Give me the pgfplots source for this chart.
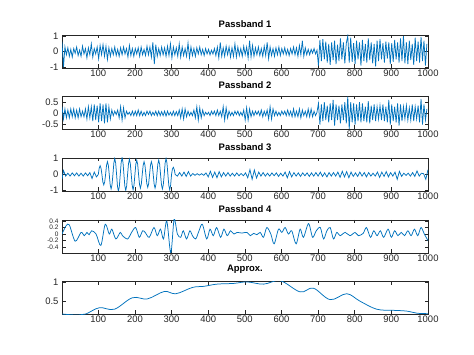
\documentclass[border=0pt]{standalone}
\usepackage{pgfplots}
\usepackage{pgfplotstable}
\pgfplotsset{compat=1.18}
\usepackage{fontspec}
\setmainfont{Liberation Sans}
\definecolor{mblue}{RGB}{0,114,189}
\definecolor{axgray}{RGB}{38,38,38}

\pgfplotstableread[row sep=\\]{y\\
0.65\\-1.0\\0.3\\-0.2\\0.25\\-0.3\\0.15\\-0.35\\0.2\\-0.1\\
0.3\\-0.25\\0.1\\-0.3\\0.35\\-0.15\\0.2\\-0.4\\0.25\\-0.2\\
0.5\\-0.35\\0.2\\-0.15\\0.3\\-0.45\\0.4\\-0.2\\0.45\\-0.3\\
0.35\\-0.5\\0.25\\-0.3\\0.2\\-0.2\\0.3\\-0.25\\0.15\\-0.3\\
0.25\\-0.2\\0.3\\-0.15\\0.2\\-0.35\\0.4\\-0.25\\0.2\\-0.3\\
0.2\\-0.15\\0.25\\-0.3\\0.3\\-0.2\\0.15\\-0.25\\0.35\\-0.2\\
0.3\\-0.35\\0.6\\-0.8\\0.45\\-0.3\\0.2\\-0.25\\0.3\\-0.2\\
0.25\\-0.3\\0.35\\-0.25\\0.5\\-0.4\\0.3\\-0.2\\0.25\\-0.3\\
0.5\\-0.35\\0.3\\-0.25\\0.2\\-0.3\\0.55\\-0.4\\0.3\\-0.25\\
0.2\\-0.3\\0.25\\-0.15\\0.3\\-0.2\\0.15\\-0.25\\0.2\\-0.15\\
0.15\\-0.2\\0.1\\-0.15\\0.2\\-0.25\\0.3\\-0.4\\0.6\\-0.3\\
0.25\\-0.3\\0.35\\-0.2\\0.3\\-0.35\\0.25\\-0.3\\0.5\\-0.35\\
0.3\\-0.25\\0.2\\-0.3\\0.35\\-0.2\\0.3\\-0.4\\0.7\\-0.35\\
0.4\\-0.3\\0.25\\-0.2\\0.3\\-0.25\\0.2\\-0.3\\0.35\\-0.25\\
0.6\\-0.45\\0.3\\-0.25\\0.2\\-0.3\\0.25\\-0.2\\0.3\\-0.25\\
0.2\\-0.15\\0.25\\-0.2\\0.15\\-0.25\\0.2\\-0.15\\0.3\\-0.2\\
0.25\\-0.3\\0.4\\-0.2\\0.7\\-0.3\\0.25\\-0.2\\0.15\\-0.2\\
0.15\\-0.1\\0.2\\-0.15\\0.1\\
-0.9\\0.75\\-0.6\\0.8\\-0.5\\0.65\\-0.7\\0.5\\-0.85\\0.6\\
-0.55\\0.7\\-0.8\\0.45\\-0.6\\0.85\\-0.5\\0.6\\-0.75\\0.55\\
1.0\\-0.7\\0.9\\-0.65\\0.55\\-0.8\\0.7\\-0.5\\0.6\\-0.9\\
0.75\\-0.6\\0.5\\-0.7\\0.85\\-0.55\\0.6\\-0.75\\0.5\\-0.95\\
0.7\\-0.6\\0.8\\-0.5\\0.55\\-0.7\\0.65\\-0.45\\0.6\\-0.8\\
0.55\\-0.65\\0.75\\-0.5\\0.6\\-0.7\\0.85\\-0.6\\1.0\\-0.75\\
0.6\\-0.8\\0.7\\-0.55\\0.5\\-0.85\\0.9\\-0.6\\0.65\\-0.7\\
0.95\\-0.6\\0.7\\-0.9\\0.5\\
}\passA

\pgfplotstableread[row sep=\\]{y\\
0.3\\-0.25\\0.2\\-0.2\\0.15\\-0.2\\0.2\\-0.15\\0.2\\-0.2\\
0.15\\-0.2\\0.2\\-0.15\\0.1\\-0.15\\0.2\\-0.25\\0.3\\-0.2\\
0.3\\-0.35\\0.4\\-0.3\\0.35\\-0.4\\0.45\\-0.35\\0.4\\-0.45\\
0.45\\-0.4\\0.3\\-0.25\\0.15\\-0.1\\0.1\\-0.05\\0.15\\-0.2\\
0.3\\-0.3\\0.25\\-0.2\\0.1\\-0.05\\0.05\\-0.1\\0.1\\-0.1\\
0.1\\-0.1\\0.15\\-0.1\\0.1\\-0.1\\0.05\\-0.1\\0.1\\-0.05\\
0.1\\-0.1\\0.05\\-0.08\\0.1\\-0.1\\0.1\\-0.1\\0.08\\-0.1\\
0.1\\-0.12\\0.1\\-0.08\\0.05\\-0.1\\0.1\\-0.1\\0.08\\-0.1\\
0.15\\-0.2\\0.2\\-0.25\\0.2\\-0.15\\0.1\\-0.1\\0.05\\-0.1\\
0.15\\-0.2\\0.3\\-0.3\\0.25\\-0.2\\0.15\\-0.1\\0.05\\-0.05\\
0.05\\-0.1\\0.1\\-0.05\\0.1\\-0.1\\0.15\\-0.1\\0.1\\-0.15\\
0.3\\-0.3\\0.25\\-0.2\\0.1\\-0.1\\0.05\\-0.1\\0.1\\-0.05\\
0.1\\-0.1\\0.05\\-0.1\\0.15\\-0.3\\0.25\\-0.3\\0.2\\-0.15\\
0.1\\-0.1\\0.1\\-0.05\\0.1\\-0.1\\0.15\\-0.15\\0.1\\-0.1\\
0.15\\-0.25\\0.3\\-0.25\\0.2\\-0.1\\0.1\\-0.1\\0.05\\-0.1\\
0.1\\-0.05\\0.1\\-0.1\\0.15\\-0.1\\0.1\\-0.15\\0.2\\-0.15\\
0.1\\-0.15\\0.2\\-0.2\\0.15\\-0.1\\0.1\\-0.15\\0.2\\-0.15\\
0.2\\-0.15\\0.1\\-0.1\\0.05\\
0.45\\-0.5\\0.4\\-0.35\\0.5\\-0.3\\0.35\\-0.4\\0.45\\-0.3\\
0.6\\-0.55\\0.4\\-0.3\\0.35\\-0.45\\0.4\\-0.3\\0.5\\-0.45\\
0.75\\-0.7\\0.5\\-0.4\\0.45\\-0.5\\0.4\\-0.35\\0.5\\-0.4\\
0.45\\-0.35\\0.3\\-0.4\\0.55\\-0.45\\0.35\\-0.3\\0.4\\-0.35\\
0.3\\-0.25\\0.35\\-0.3\\0.4\\-0.35\\0.3\\-0.4\\0.6\\-0.5\\
0.4\\-0.35\\0.3\\-0.4\\0.45\\-0.55\\0.4\\-0.35\\0.3\\-0.25\\
0.35\\-0.3\\0.25\\-0.3\\0.4\\-0.35\\0.3\\-0.25\\0.35\\-0.4\\
0.65\\-0.5\\0.4\\-0.3\\0.2\\
}\passB

\pgfplotsset{
  mat/.style={
    scale only axis, width=366bp, height=33bp, anchor=south west,
    xmin=1, xmax=1000, xtick={100,200,...,1000},
    tick align=inside, major tick length=3.5bp,
    axis line style={axgray, line width=0.5bp},
    every tick/.style={axgray, line width=0.5bp},
    tick label style={font=\fontsize{9.5}{10}\selectfont, text=axgray},
    xticklabel style={inner sep=2bp},
    title style={font=\bfseries\fontsize{9.5}{10}\selectfont, inner sep=1bp},
    /pgf/number format/assume math mode=true,
    /pgf/number format/1000 sep={},
    scaled ticks=false,
  },
  sig/.style={color=mblue, line width=0.75bp, mark=none},
}

\begin{document}
\begin{tikzpicture}
\path[use as bounding box] (0,0) rectangle (474bp,355bp);

% Passband 1
\begin{axis}[mat, at={(62bp,287bp)}, title={Passband 1},
  ymin=-1.05, ymax=1.07, ytick={-1,0,1}]
\addplot[sig] table[x expr=\coordindex*4+1, y=y] {\passA};
\end{axis}

% Passband 2
\begin{axis}[mat, at={(62bp,226bp)}, title={Passband 2},
  ymin=-0.7, ymax=0.78, ytick={-0.5,0,0.5}]
\addplot[sig] table[x expr=\coordindex*4+1, y=y] {\passB};
\end{axis}

% Passband 3
\begin{axis}[mat, at={(62bp,164bp)}, title={Passband 3},
  ymin=-1.03, ymax=1.03, ytick={-1,0,1}]
\addplot[sig] coordinates {
(1,-0.3)(5,0.25)(11,-0.1)(17,0.08)(23,-0.1)(29,0.1)(35,-0.08)(41,0.1)(47,-0.1)(53,0.08)(59,-0.1)(65,0.1)(71,-0.08)(77,0.12)(83,-0.25)(89,0.15)(95,-0.15)
(100,0)(102.5,0.39)(105,0.55)(107.5,0.39)(110,0)(112.5,-0.46)(115,-0.65)(117.5,-0.46)
(120,0)(122.5,0.57)(125,0.8)(127.5,0.57)(130,0)(132.5,-0.64)(135,-0.9)(137.5,-0.64)
(140,0)(142.5,0.71)(145,1.0)(147.5,0.71)(150,0)(152.5,-0.75)(155,-1.05)(157.5,-0.75)
(160,0)(162.5,0.75)(165,1.05)(167.5,0.75)(170,0)(172.5,-0.71)(175,-1.0)(177.5,-0.71)
(180,0)(182.5,0.67)(185,0.95)(187.5,0.67)(190,0)(192.5,-0.67)(195,-0.95)(197.5,-0.67)
(200,0)(202.5,0.64)(205,0.9)(207.5,0.64)(210,0)(212.5,-0.6)(215,-0.85)(217.5,-0.6)
(220,0)(222.5,0.57)(225,0.8)(227.5,0.57)(230,0)(232.5,-0.57)(235,-0.8)(237.5,-0.57)
(240,0)(242.5,0.57)(245,0.8)(247.5,0.57)(250,0)(252.5,-0.6)(255,-0.85)(257.5,-0.6)
(260,0)(262.5,0.64)(265,0.9)(267.5,0.64)(270,0)(272.5,-0.64)(275,-0.9)(277.5,-0.64)
(280,0)(282.5,0.71)(285,1.0)(287.5,0.71)(290,0)(292.5,-0.67)(295,-0.95)(297.5,-0.67)
(300,0)(302.5,0.35)(305,0.45)(307.5,0.3)(310,0)
(316,-0.1)(322,0.12)(328,-0.1)(334,0.15)(340,-0.12)(346,0.18)(352,-0.1)(358,0.06)(364,-0.05)(370,0.05)
(376,-0.04)(382,0.05)(388,-0.05)(394,0.1)(400,-0.15)(406,0.2)(412,-0.18)(418,0.15)(424,-0.2)(430,0.18)
(436,-0.15)(442,0.12)(448,-0.1)(454,0.12)(460,-0.1)(466,0.08)(472,-0.1)(478,0.1)(484,-0.08)(490,0.06)
(496,-0.08)(502,0.1)(508,-0.2)(514,0.3)(520,-0.3)(526,0.28)(532,-0.22)(538,0.15)(544,-0.1)(550,0.12)
(556,-0.1)(562,0.08)(568,-0.1)(574,0.1)(580,-0.08)(586,0.1)(592,-0.12)(598,0.08)(604,-0.1)(610,0.15)
(616,-0.2)(622,0.18)(628,-0.15)(634,0.12)(640,-0.1)(646,0.1)(652,-0.12)(658,0.1)(664,-0.08)(670,0.1)
(676,-0.12)(682,0.1)(688,-0.1)(694,0.12)(700,-0.1)(706,0.15)(712,-0.12)(718,0.1)(724,-0.15)(730,0.12)
(736,-0.1)(742,0.12)(748,-0.1)(754,0.15)(760,-0.18)(766,0.2)(772,-0.15)(778,0.18)(784,-0.2)(790,0.15)
(796,-0.12)(802,0.1)(808,-0.12)(814,0.15)(820,-0.1)(826,0.12)(832,-0.15)(838,0.12)(844,-0.1)(850,0.08)
(856,-0.1)(862,0.15)(868,-0.18)(874,0.15)(880,-0.12)(886,0.18)(892,-0.15)(898,0.12)(904,-0.1)(910,0.15)
(916,-0.3)(922,0.2)(928,-0.12)(934,0.08)(940,-0.06)(946,0.08)(952,-0.1)(958,0.12)(964,-0.12)(970,0.22)
(976,-0.1)(982,0.08)(988,0.05)(994,-0.3)(1000,0.3)
};
\end{axis}

% Passband 4
\begin{axis}[mat, at={(62bp,102bp)}, title={Passband 4},
  ymin=-0.58, ymax=0.43, ytick={-0.4,-0.2,0,0.2,0.4},
  yticklabel style={font=\fontsize{6.5}{7}\selectfont}]
\addplot[sig, smooth, tension=0.5] coordinates {
(1,0.0)(12,0.25)(21,0.28)(37,-0.22)(53,0.05)(62,-0.05)(69,0.05)(75,-0.02)(82,0.1)(94,0.0)
(107,-0.35)(119,0.3)(130,0.0)(137,0.15)(148,-0.15)(160,0.05)(166,-0.05)(180,-0.15)(191,0.05)(202,0.2)
(212,-0.1)(221,0.1)(228,0.05)(239,-0.1)(252,0.2)(261,-0.05)(270,0.15)(278,-0.15)(287,0.4)(298,-0.58)
(307,0.45)(316,0.0)(325,-0.1)(332,0.1)(341,-0.15)(350,0.1)(357,-0.05)(366,-0.15)(375,0.1)(384,0.3)
(396,-0.15)(405,0.15)(414,-0.05)(423,0.2)(434,-0.1)(443,0.15)(452,-0.05)(461,0.1)(470,0.0)(479,0.05)
(492,0.03)(506,0.05)(515,-0.05)(524,0.02)(533,-0.02)(542,0.05)(551,-0.1)(560,0.2)(571,0.0)(580,-0.3)
(592,0.15)(601,0.05)(610,0.2)(619,0.0)(628,0.1)(640,-0.3)(651,0.15)(660,-0.1)(674,0.32)(685,-0.1)
(695,0.1)(706,0.2)(715,-0.15)(724,0.1)(733,0.2)(742,-0.15)(751,0.05)(760,-0.05)(774,0.05)(787,-0.05)
(801,0.05)(810,-0.05)(823,0.02)(832,0.2)(843,-0.1)(852,0.1)(861,-0.05)(870,0.1)(879,-0.1)(891,0.15)
(900,-0.1)(909,0.1)(918,-0.05)(927,0.05)(936,-0.05)(945,0.1)(954,-0.05)(963,0.15)(972,-0.05)(981,0.2)
(990,0.0)(1000,-0.2)
};
\end{axis}

% Approx.
\begin{axis}[mat, at={(62bp,41bp)}, title={Approx.},
  ymin=0.15, ymax=1.045, ytick={0.5,1}]
\addplot[sig, smooth, tension=0.6] coordinates {
(1,0.15)(44,0.12)(66,0.15)(103,0.32)(144,0.28)(193,0.59)(234,0.56)(280,0.76)(312,0.70)(357,0.87)
(388,0.90)(424,0.96)(470,0.98)(506,1.02)(551,0.96)(597,1.05)(651,0.75)(687,0.85)(733,0.54)(778,0.70)
(814,0.50)(860,0.28)(905,0.25)(941,0.23)(971,0.17)(1000,0.16)
};
\end{axis}
\end{tikzpicture}
\end{document}
